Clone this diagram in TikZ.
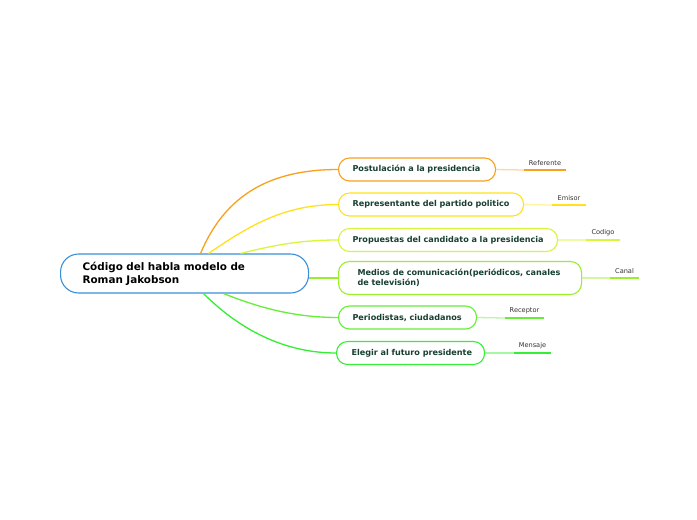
\documentclass[tikz,border=0pt]{standalone}
\usepackage{fontspec}
\setmainfont{DejaVu Sans}
\usetikzlibrary{calc}
\definecolor{cblue}{HTML}{3A8FD8}
\definecolor{c1}{HTML}{F7A11C}
\definecolor{c2}{HTML}{FFE11E}
\definecolor{c3}{HTML}{D9F53C}
\definecolor{c4}{HTML}{9BEE2C}
\definecolor{c5}{HTML}{66EE3A}
\definecolor{c6}{HTML}{36EE36}
\definecolor{btext}{HTML}{173F32}
\definecolor{ltext}{HTML}{333333}
\begin{document}
\begin{tikzpicture}[x=1pt,y=-1pt,
  central/.style={draw=cblue, line width=1.1pt, rounded corners=18pt, fill=white,
    anchor=west, minimum height=39pt, inner ysep=0pt, inner xsep=22pt, align=left,
    text width=204pt, font=\bfseries\fontsize{10.4}{13}\selectfont, text=black},
  branch/.style={draw, line width=1.1pt, rounded corners=11pt, fill=white,
    anchor=west, minimum height=23pt, inner ysep=0pt, align=left,
    font=\bfseries\fontsize{8.1}{10.5}\selectfont, text=btext},
  conn/.style={line width=1.3pt},
  stub/.style={line width=1.3pt},
  leaf/.style={font=\fontsize{6.6}{7.5}\selectfont, text=ltext, inner sep=0pt, anchor=south},
  leafline/.style={line width=2pt}
]
\useasboundingbox[fill=white] (0,0) rectangle (697,520);

\node[central] (c) at (60,273.5) {Código del habla modelo de\\Roman Jakobson};

\node[branch, draw=c1, text width=129pt, inner xsep=14pt] (b1) at (338,169.5) {\mbox{Postulación a la presidencia}};
\node[branch, draw=c2, text width=157pt, inner xsep=14pt] (b2) at (338,204.5) {\mbox{Representante del partido politico}};
\node[branch, draw=c3, text width=191pt, inner xsep=14pt] (b3) at (338,240) {\mbox{Propuestas del candidato a la presidencia}};
\node[branch, draw=c4, text width=205pt, inner xsep=19pt, minimum height=33pt] (b4) at (338,278) {\mbox{Medios de comunicación(periódicos, canales}\\de televisión)};
\node[branch, draw=c5, text width=110pt, inner xsep=14pt] (b5) at (338,317.5) {\mbox{Periodistas, ciudadanos}};
\node[branch, draw=c6, text width=118pt, inner xsep=15pt] (b6) at (336,353) {\mbox{Elegir al futuro presidente}};

% connectors from central node
\draw[conn, c1] ([xshift=16pt]c.north) .. controls (225,195) and (270,169.5) .. (b1.west);
\draw[conn, c2] ([xshift=24pt]c.north) .. controls (250,225) and (285,204.5) .. (b2.west);
\draw[conn, c3] ([xshift=56pt]c.north) .. controls (275,245) and (300,240) .. (b3.west);
\draw[line width=2pt, c4] (c.east |- b4.west) -- (b4.west);
\draw[conn, c5] ([xshift=39pt]c.south) .. controls (260,308) and (295,317.5) .. (b5.west);
\draw[conn, c6] ([xshift=19pt]c.south) .. controls (240,330) and (285,353) .. (b6.west);

% leaves
\coordinate (r1a) at (524,170); \coordinate (r1b) at (566,170);
\coordinate (r2a) at (552,205); \coordinate (r2b) at (586,205);
\coordinate (r3a) at (586,240); \coordinate (r3b) at (620,240);
\coordinate (r4a) at (610,278); \coordinate (r4b) at (639,278);
\coordinate (r5a) at (505,318); \coordinate (r5b) at (544,318);
\coordinate (r6a) at (514,353); \coordinate (r6b) at (551,353);

\draw[stub, c1!40] (b1.east) -- (r1a);
\draw[leafline, c1] (r1a) -- (r1b);
\node[leaf] (l1) at ($(r1a)!0.5!(r1b)+(0,-4)$) {Referente};
\draw[stub, c2!40] (b2.east) -- (r2a);
\draw[leafline, c2] (r2a) -- (r2b);
\node[leaf] (l2) at ($(r2a)!0.5!(r2b)+(0,-4)$) {Emisor};
\draw[stub, c3!45] (b3.east) -- (r3a);
\draw[leafline, c3] (r3a) -- (r3b);
\node[leaf] (l3) at ($(r3a)!0.5!(r3b)+(0,-4)$) {Codigo};
\draw[stub, c4!45] (b4.east) -- (r4a);
\draw[leafline, c4] (r4a) -- (r4b);
\node[leaf] (l4) at ($(r4a)!0.5!(r4b)+(0,-4)$) {Canal};
\draw[stub, c5!45] (b5.east) -- (r5a);
\draw[leafline, c5] (r5a) -- (r5b);
\node[leaf] (l5) at ($(r5a)!0.5!(r5b)+(0,-4)$) {Receptor};
\draw[stub, c6!45] (b6.east) -- (r6a);
\draw[leafline, c6] (r6a) -- (r6b);
\node[leaf] (l6) at ($(r6a)!0.5!(r6b)+(0,-4)$) {Mensaje};
\end{tikzpicture}
\end{document}
